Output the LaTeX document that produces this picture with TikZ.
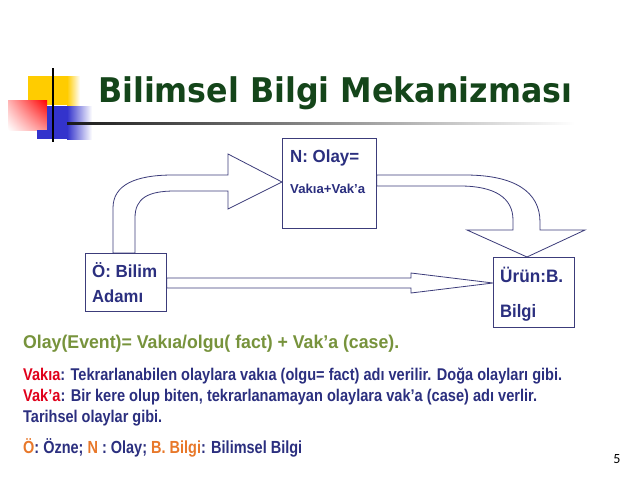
\documentclass[tikz,border=0pt]{standalone}
\usepackage{fontspec}
\setmainfont{Liberation Sans}
\newfontfamily\titlefont{DejaVu Sans}
\newfontfamily\pagefont{Carlito}
\usetikzlibrary{calc,shadings}
\definecolor{navy}{HTML}{2B2F7F}
\definecolor{arrowcol}{HTML}{3C3C7A}
\definecolor{titlegreen}{HTML}{14451A}
\definecolor{olaygreen}{HTML}{77933C}
\definecolor{vred}{HTML}{E0001B}
\definecolor{orng}{HTML}{E8782A}
\definecolor{logoyellow}{HTML}{FFCC00}
\definecolor{logoblue}{HTML}{3333CC}
\newcommand{\fitw}[2]{\resizebox{#1}{\height}{#2}}
\begin{document}
\begin{tikzpicture}[x=1pt,y=-1pt,
  box/.style={draw=arrowcol, line width=0.8pt, fill=white, anchor=north west, inner sep=0},
  blockarrow/.style={draw=arrowcol, line width=0.8pt, fill=white, line join=miter},
  txt/.style={anchor=base west, inner sep=0, text=navy},
  fs/.style={font=\bfseries\fontsize{#1}{#1}\selectfont}]
\useasboundingbox (0,0) rectangle (638,479);
\fill[white] (0,0) rectangle (638,479);
% logo
\fill[logoyellow] (28,76) rectangle (67,105);
\shade[left color=logoyellow, right color=white] (67,76) rectangle (80,105);
\shade[upper right=red, upper left=red!30, lower right=red!45, lower left=white] (8,100) rectangle (47,130);
\fill[logoblue] (47,106) rectangle (67,139);
\fill[logoblue] (37,130) rectangle (47,139);
\shade[left color=logoblue, right color=white] (67,106) rectangle (92,139);
\draw[line width=1.5pt] (53,68) -- (53,142);
\shade[left color=black!90, right color=white] (67,122.5) rectangle (575,124.5);
% title
\node[anchor=base west, inner sep=0, text=titlegreen, font=\titlefont\bfseries\fontsize{34}{34}\selectfont] (title) at (98,102) {\fitw{474pt}{Bilimsel Bilgi Mekanizması}};
% boxes (coordinates)
\node[box, minimum width=94pt, minimum height=90pt] (N) at (282,138) {};
\node[box, minimum width=81pt, minimum height=58pt] (O) at (85,253) {};
\node[box, minimum width=81pt, minimum height=70pt] (U) at (493,257) {};
% block arrows
\filldraw[blockarrow] ($(O.north west)+(28,0)$) -- (113,208) .. controls (113,185) and (135,175) .. (173,175) -- (228,175) -- (228,154) -- ($(N.north west)+(0,44)$) -- (228,209) -- (228,191) -- (175,191) .. controls (148,191) and (135,198) .. (135,218) -- ($(O.north west)+(50,0)$) -- cycle;
\filldraw[blockarrow] ($(N.north east)+(0,37)$) -- (465,175) .. controls (515,175) and (540,192) .. (540,222) -- (540,230) -- (585,230) -- ($(U.north west)+(34,0)$) -- (467,230) -- (513,230) -- (513,220) .. controls (513,198) and (495,186) .. (460,186) -- ($(N.north east)+(0,48)$) -- cycle;
\filldraw[blockarrow] ($(O.north east)+(0,25)$) -- (411,278) -- (411,273) -- ($(U.north west)+(0,26)$) -- (411,293) -- (411,288) -- ($(O.north east)+(0,35)$) -- cycle;
% redraw boxes on top
\node[box, minimum width=94pt, minimum height=90pt] (N2) at (N.north west) {};
\node[box, minimum width=81pt, minimum height=58pt] (O2) at (O.north west) {};
\node[box, minimum width=81pt, minimum height=70pt] (U2) at (U.north west) {};
% box texts
\node[txt, fs=17.5] (Nt1) at (290,162) {\fitw{69pt}{N: Olay=}};
\node[txt, fs=13] (Nt2) at (290,193) {\fitw{75pt}{Vakıa+Vak’a}};
\node[txt, fs=17.5] (Ot1) at (92,277) {\fitw{65pt}{Ö: Bilim}};
\node[txt, fs=17.5] (Ot2) at (92,302) {\fitw{51pt}{Adamı}};
\node[txt, fs=18] (Ut1) at (500,282) {\fitw{63pt}{Ürün:B.}};
\node[txt, fs=18] (Ut2) at (500,317) {\fitw{36pt}{Bilgi}};
% body texts
\node[txt, text=olaygreen, fs=18.5] (olay) at (23,348.5) {\fitw{376pt}{Olay(Event)= Vakıa/olgu( fact) + Vak’a (case).}};
\node[txt, fs=17] (l1) at (23,380) {\fitw{539pt}{\textcolor{vred}{Vakıa}: Tekrarlanabilen olaylara vakıa (olgu= fact) adı verilir. Doğa olayları gibi.}};
\node[txt, fs=17] (l2) at (23,401) {\fitw{514pt}{\textcolor{vred}{Vak’a}: Bir kere olup biten, tekrarlanamayan olaylara vak’a (case) adı verlir.}};
\node[txt, fs=17] (l3) at (23,422) {\fitw{139pt}{Tarihsel olaylar gibi.}};
\node[txt, fs=17.5] (l4) at (23,453) {\fitw{279pt}{\textcolor{orng}{Ö}: Özne; \textcolor{orng}{N} : Olay; \textcolor{orng}{B. Bilgi}: Bilimsel Bilgi}};
\node[anchor=base, inner sep=0, font=\pagefont\fontsize{14}{14}\selectfont] (pg) at (617,463) {5};
\end{tikzpicture}
\end{document}
